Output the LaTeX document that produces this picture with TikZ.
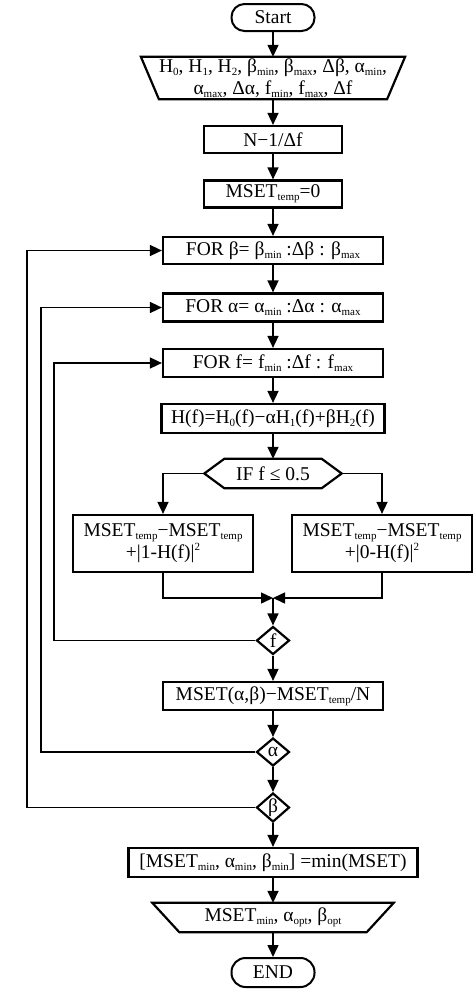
\documentclass[tikz,border=0pt]{standalone}
\usepackage{fontspec}
\setmainfont{Liberation Serif}
\usetikzlibrary{arrows.meta,shapes.geometric}
\newcommand\sbs[1]{\raisebox{-0.35ex}{\fontsize{11}{11}\selectfont #1}}
\newcommand\sps[1]{\raisebox{0.95ex}{\fontsize{11}{11}\selectfont #1}}
\begin{document}
\begin{tikzpicture}[x=1pt,y=-1pt,
  every node/.style={font=\fontsize{19.5}{22}\selectfont, inner sep=0pt},
  box/.style={draw, line width=2.2pt, rectangle, minimum height=28pt},
  term/.style={draw, line width=2pt, rounded corners=13pt, minimum width=83pt, minimum height=27pt},
  dia/.style={draw, line width=2.2pt, diamond, minimum width=33pt, minimum height=28pt},
  plainbox/.style={rectangle},
  outline/.style={line width=2.2pt, line join=miter},
  conn/.style={line width=1.5pt},
  arr/.style={conn, -{Triangle[length=12pt,width=11pt]}},
]
\useasboundingbox (0,0) rectangle (474,1001);

\node[term] (start) at (273,17.5) {Start};

\node[plainbox, minimum width=226pt, minimum height=42pt, align=center] (in) at (273,78)
  {H\sbs{0}, H\sbs{1}, H\sbs{2}, β\sbs{min}, β\sbs{max}, Δβ, α\sbs{min},\\
   α\sbs{max}, Δα, f\sbs{min}, f\sbs{max}, Δf};
\draw[outline] ([xshift=-18pt]in.north west) -- ([xshift=18pt]in.north east)
  -- (in.south east) -- (in.south west) -- cycle;

\node[box, minimum width=138pt, minimum height=27pt] (N) at (273,139.5) {N−1/Δf};
\node[box, minimum width=138pt, minimum height=27pt] (M0) at (273,194) {MSET\sbs{temp}=0};

\node[box, minimum width=220pt, minimum height=27pt] (FORb) at (273,250.5) {FOR β= β\sbs{min} :Δβ : β\sbs{max}};
\node[box, minimum width=220pt] (FORa) at (273,307.5) {FOR α= α\sbs{min} :Δα : α\sbs{max}};
\node[box, minimum width=220pt] (FORf) at (273,363) {FOR f= f\sbs{min} :Δf : f\sbs{max}};
\node[box, minimum width=223pt, minimum height=29pt] (H) at (273,418.5) {H(f)=H\sbs{0}(f)−αH\sbs{1}(f)+βH\sbs{2}(f)};

\node[plainbox, minimum width=97pt, minimum height=29pt] (if) at (273,473.5) {IF f ≤ 0.5};
\coordinate (ifL) at ([xshift=-20pt]if.west);
\coordinate (ifR) at ([xshift=20pt]if.east);
\draw[outline] (if.north west) -- (if.north east) -- (ifR) -- (if.south east)
  -- (if.south west) -- (ifL) -- cycle;

\node[box, minimum width=180pt, minimum height=57pt, align=center] (L) at (163,543.5)
  {MSET\sbs{temp}−MSET\sbs{temp}\\+|1-H(f)|\sps{2}};
\node[box, minimum width=180pt, minimum height=57pt, align=center] (R) at (382,543.5)
  {MSET\sbs{temp}−MSET\sbs{temp}\\+|0-H(f)|\sps{2}};

\coordinate (mg) at (273,598);
\node[dia] (fd) at (273,640.5) {f};
\node[box, minimum width=220pt] (Mab) at (273,696) {MSET(α,β)−MSET\sbs{temp}/N};
\node[dia] (ad) at (273,752) {α};
\node[dia, minimum height=29pt] (bd) at (273,807.5) {β};
\node[box, minimum width=289pt, minimum height=29pt] (min) at (273,862.5)
  {[MSET\sbs{min}, α\sbs{min}, β\sbs{min}] =min(MSET)};

\node[plainbox, minimum width=187pt, minimum height=29pt] (out) at (273,917.5)
  {MSET\sbs{min}, α\sbs{opt}, β\sbs{opt}};
\draw[outline] ([xshift=-27pt]out.north west) -- ([xshift=27pt]out.north east)
  -- (out.south east) -- (out.south west) -- cycle;

\node[term, minimum height=29pt, rounded corners=14pt] (end) at (273,972.5) {END};

\coordinate (lf) at (54,0);
\coordinate (la) at (41,0);
\coordinate (lb) at (27,0);

\draw[arr] (start) -- (in);
\draw[arr] (in) -- (N);
\draw[arr] (N) -- (M0);
\draw[arr] (M0) -- (FORb);
\draw[arr] (FORb) -- (FORa);
\draw[arr] (FORa) -- (FORf);
\draw[arr] (FORf) -- (H);
\draw[arr] (H) -- (if);
\draw[arr] (ifL) -| (L);
\draw[arr] (ifR) -| (R);
\draw[arr] (L.south) |- (mg);
\draw[arr] (R.south) |- (mg);
\draw[arr] (mg) -- (fd);
\draw[arr] (fd.west) -- (fd.west -| lf) |- (FORf.west);
\draw[arr] (fd) -- (Mab);
\draw[arr] (Mab) -- (ad);
\draw[arr] (ad.west) -- (ad.west -| la) |- (FORa.west);
\draw[arr] (ad) -- (bd);
\draw[arr] (bd.west) -- (bd.west -| lb) |- (FORb.west);
\draw[arr] (bd) -- (min);
\draw[arr] (min) -- (out);
\draw[arr] (out) -- (end);
\end{tikzpicture}
\end{document}
